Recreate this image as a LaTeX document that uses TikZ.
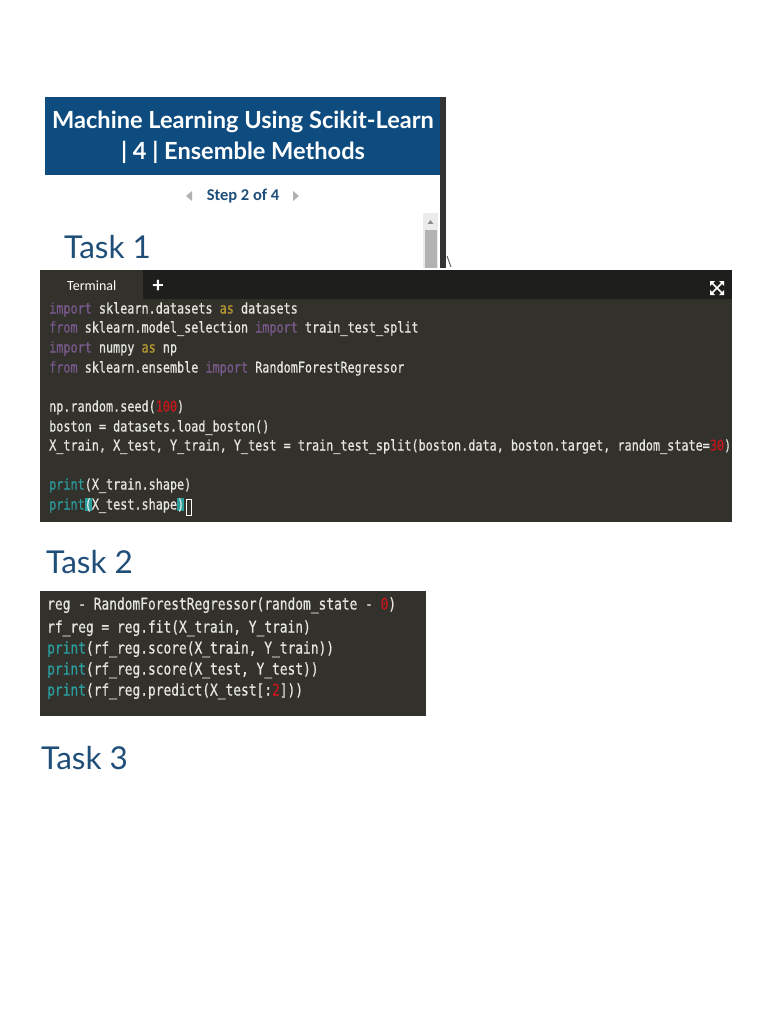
\documentclass[tikz,border=0pt]{standalone}
\usepackage{fontspec}
\setmainfont{Carlito}
\newfontfamily\codefont[FakeStretch=0.8,FakeBold=0.6]{DejaVu Sans Mono}
\newfontfamily\titlefont{Lato}
\definecolor{hdrblue}{HTML}{0E4C80}
\definecolor{taskblue}{HTML}{1F4E79}
\definecolor{termbg}{HTML}{33312C}
\definecolor{tabbar}{HTML}{1E1E1C}
\definecolor{kw}{HTML}{7A5A8C}
\definecolor{askw}{HTML}{B89A30}
\definecolor{num}{HTML}{C4171B}
\definecolor{fn}{HTML}{2A9D9D}
\definecolor{codetxt}{HTML}{E6E6E0}
\tikzset{
  codeline/.style={anchor=west,inner sep=0,text height=0.75em,text depth=0.25em,text=codetxt,font=\codefont\fontsize{14.75}{15}\selectfont},
  codeline2/.style={codeline,font=\codefont\fontsize{16.1}{16}\selectfont},
  tasklbl/.style={anchor=west,inner sep=0,text=taskblue,font=\titlefont\fontsize{31.5}{31}\selectfont},
}
\newcommand{\K}[1]{\textcolor{kw}{#1}}
\newcommand{\A}[1]{\textcolor{askw}{#1}}
\newcommand{\N}[1]{\textcolor{num}{#1}}
\newcommand{\F}[1]{\textcolor{fn}{#1}}
\newcommand{\HL}[1]{\setlength{\fboxsep}{0pt}\colorbox{fn}{#1}}
\begin{document}
\begin{tikzpicture}[x=1pt,y=-1pt]
\useasboundingbox (0,0) rectangle (768,1024);
\fill[white] (0,0) rectangle (768,1024);
% top panel
\fill[hdrblue] (45,97) rectangle (440,175);
\fill[black!80] (440,97) rectangle (446,268);
\fill[black!8] (423,213) rectangle (438,268);
\fill[black!30] (425,230) rectangle (437,268);
\fill[black!45] (430.5,220) -- (427.5,224) -- (433.5,224) -- cycle;
\draw[black!70,line width=0.8] (447,256) -- (451,267);
\node[inner sep=0,text=white,font=\titlefont\bfseries\fontsize{23.6}{23}\selectfont] (t1) at (243,122) {Machine Learning Using Scikit-Learn};
\node[inner sep=0,text=white,font=\titlefont\bfseries\fontsize{23.6}{23}\selectfont] (t2) at (243,152) {| 4 | Ensemble Methods};
\node[inner sep=0,text=taskblue,font=\bfseries\fontsize{16.5}{16.5}\selectfont] (step) at (243,196) {Step 2 of 4};
\fill[black!30] (186,196) -- (192,191) -- (192,201) -- cycle;
\fill[black!30] (299,196) -- (293,191) -- (293,201) -- cycle;
\node[tasklbl] (task1) at (64,247) {Task 1};
% terminal
\fill[termbg] (40,270) rectangle (732,522);
\fill[tabbar] (143,270) rectangle (732,299);
\node[anchor=west,inner sep=0,text=white,font=\fontsize{14}{14}\selectfont] (term) at (67,286) {Terminal};
\node[inner sep=0,text=white,font=\bfseries\fontsize{22}{22}\selectfont] (plus) at (158,286) {+};
\begin{scope}[white,line width=1.6]
\draw (711,282) -- (723,294) (723,282) -- (711,294);
\fill (710,281) -- (715,281) -- (710,286) -- cycle;
\fill (724,281) -- (719,281) -- (724,286) -- cycle;
\fill (710,295) -- (715,295) -- (710,290) -- cycle;
\fill (724,295) -- (719,295) -- (724,290) -- cycle;
\end{scope}
\node[codeline] (c1) at (49,311) {\K{import} sklearn.datasets \A{as} datasets};
\node[codeline] (c2) at (49,330) {\K{from} sklearn.model\_selection \K{import} train\_test\_split};
\node[codeline] (c3) at (49,350) {\K{import} numpy \A{as} np};
\node[codeline] (c4) at (49,370) {\K{from} sklearn.ensemble \K{import} RandomForestRegressor};
\node[codeline] (c5) at (49,409) {np.random.seed(\N{100})};
\node[codeline] (c6) at (49,429) {boston = datasets.load\_boston()};
\node[codeline] (c7) at (49,448) {X\_train, X\_test, Y\_train, Y\_test = train\_test\_split(boston.data, boston.target, random\_state=\N{30})};
\node[codeline] (c8) at (49,487) {\F{print}(X\_train.shape)};
\node[codeline] (c9) at (49,507) {\F{print}\HL{(}X\_test.shape\HL{)}};
\draw[white,line width=0.8] (c9.east) ++(2,-8) rectangle ++(5,16);
% Task 2
\node[tasklbl] (task2) at (46,562) {Task 2};
\fill[termbg] (40,591) rectangle (426,716);
\node[codeline2] (d1) at (47,607) {reg - RandomForestRegressor(random\_state - \N{0})};
\node[codeline2] (d2) at (47,630) {rf\_reg = reg.fit(X\_train, Y\_train)};
\node[codeline2] (d3) at (47,651) {\F{print}(rf\_reg.score(X\_train, Y\_train))};
\node[codeline2] (d4) at (47,672) {\F{print}(rf\_reg.score(X\_test, Y\_test))};
\node[codeline2] (d5) at (47,693) {\F{print}(rf\_reg.predict(X\_test[:\N{2}]))};
% Task 3
\node[tasklbl] (task3) at (41,758) {Task 3};
\end{tikzpicture}
\end{document}
